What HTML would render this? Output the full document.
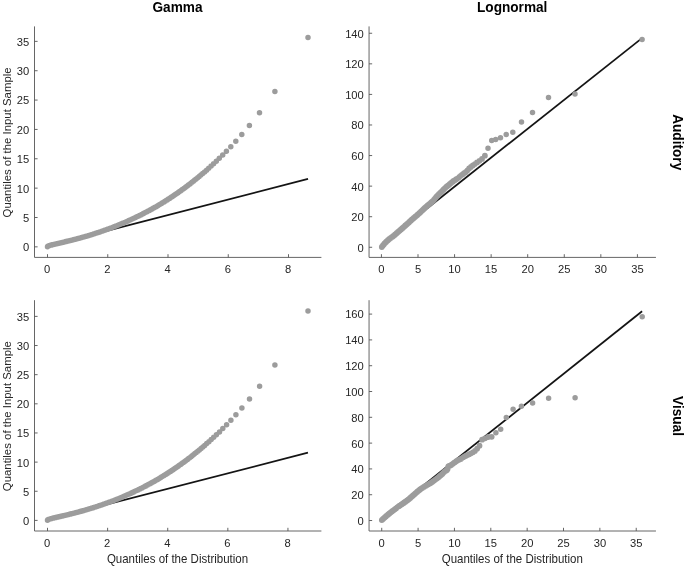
<!DOCTYPE html>
<html lang="en">
<head>
<meta charset="utf-8">
<title>QQ plots: Gamma and Lognormal, Auditory and Visual</title>
<style>
html,body{margin:0;padding:0;background:#fff;}
body{width:685px;height:566px;overflow:hidden;}
svg{display:block;font-family:"Liberation Sans",Arial,Helvetica,sans-serif;}
</style>
</head>
<body>
<svg width="685" height="566" viewBox="0 0 685 566">
<rect width="685" height="566" fill="#fff"/>
<!-- top-left: Gamma / Auditory -->
<line x1="47.51" y1="246.09" x2="308.03" y2="178.91" stroke="#141414" stroke-width="1.75"/>
<path d="M47.5 246.7h0M47.8 246.2h0M48.3 246.0h0M48.9 245.8h0M49.4 245.6h0M49.9 245.4h0M50.4 245.3h0M51.0 245.1h0M51.5 245.0h0M52.1 244.9h0M52.6 244.7h0M53.1 244.6h0M53.7 244.5h0M54.2 244.3h0M54.8 244.2h0M55.3 244.1h0M55.8 243.9h0M56.4 243.8h0M56.9 243.7h0M57.5 243.6h0M58.0 243.4h0M58.6 243.3h0M59.1 243.2h0M59.7 243.0h0M60.2 242.9h0M60.7 242.8h0M61.3 242.7h0M61.8 242.5h0M62.4 242.4h0M62.9 242.3h0M63.5 242.2h0M64.0 242.0h0M64.6 241.9h0M65.1 241.8h0M65.6 241.6h0M66.2 241.5h0M66.7 241.4h0M67.3 241.2h0M67.8 241.1h0M68.4 241.0h0M68.9 240.8h0M69.5 240.7h0M70.0 240.6h0M70.6 240.4h0M71.1 240.3h0M71.6 240.2h0M72.2 240.0h0M72.8 239.9h0M73.3 239.8h0M73.8 239.6h0M74.4 239.5h0M74.9 239.3h0M75.5 239.2h0M76.0 239.0h0M76.6 238.9h0M77.1 238.8h0M77.7 238.6h0M78.2 238.5h0M78.7 238.3h0M79.3 238.2h0M79.8 238.0h0M80.4 237.9h0M80.9 237.7h0M81.5 237.6h0M82.0 237.4h0M82.6 237.3h0M83.1 237.1h0M83.7 237.0h0M84.2 236.8h0M84.8 236.7h0M85.3 236.5h0M85.9 236.3h0M86.4 236.2h0M86.9 236.0h0M87.5 235.9h0M88.1 235.7h0M88.6 235.5h0M89.1 235.4h0M89.7 235.2h0M90.3 235.0h0M90.8 234.9h0M91.3 234.7h0M91.9 234.5h0M92.4 234.4h0M93.0 234.2h0M93.5 234.0h0M94.1 233.8h0M94.6 233.7h0M95.2 233.5h0M95.7 233.3h0M96.3 233.1h0M96.8 233.0h0M97.4 232.8h0M97.9 232.6h0M98.5 232.4h0M99.1 232.2h0M99.6 232.0h0M100.1 231.9h0M100.7 231.7h0M101.3 231.5h0M101.8 231.3h0M102.4 231.1h0M102.9 230.9h0M103.5 230.7h0M104.0 230.5h0M104.6 230.3h0M105.1 230.1h0M105.7 229.9h0M106.3 229.7h0M106.8 229.5h0M107.4 229.3h0M107.9 229.1h0M108.5 228.9h0M109.0 228.7h0M109.6 228.5h0M110.2 228.3h0M110.8 228.1h0M111.3 227.9h0M111.9 227.7h0M112.4 227.4h0M113.0 227.2h0M113.5 227.0h0M114.1 226.8h0M114.7 226.6h0M115.3 226.3h0M115.9 226.1h0M116.4 225.9h0M116.9 225.7h0M117.5 225.5h0M118.0 225.2h0M118.5 225.0h0M119.1 224.8h0M119.7 224.6h0M120.3 224.3h0M120.9 224.1h0M121.5 223.8h0M122.1 223.5h0M122.6 223.3h0M123.1 223.1h0M123.7 222.9h0M124.2 222.7h0M124.7 222.4h0M125.3 222.2h0M125.9 221.9h0M126.4 221.7h0M127.0 221.4h0M127.6 221.2h0M128.2 220.9h0M128.8 220.6h0M129.5 220.3h0M130.1 220.0h0M130.8 219.7h0M131.3 219.5h0M131.8 219.3h0M132.3 219.0h0M132.9 218.8h0M133.4 218.5h0M134.0 218.2h0M134.5 218.0h0M135.1 217.7h0M135.7 217.4h0M136.3 217.1h0M136.9 216.8h0M137.5 216.5h0M138.2 216.2h0M138.8 215.9h0M139.5 215.6h0M140.2 215.2h0M140.9 214.9h0M141.6 214.5h0M142.3 214.2h0M142.8 213.9h0M143.3 213.6h0M143.8 213.4h0M144.3 213.1h0M144.9 212.8h0M145.4 212.6h0M146.0 212.3h0M146.5 212.0h0M147.1 211.7h0M147.7 211.3h0M148.3 211.0h0M148.9 210.7h0M149.5 210.4h0M150.1 210.0h0M150.8 209.7h0M151.4 209.3h0M152.1 208.9h0M152.8 208.5h0M153.5 208.1h0M154.2 207.7h0M155.0 207.3h0M155.7 206.9h0M156.5 206.4h0M157.3 206.0h0M158.1 205.5h0M158.9 205.0h0M159.8 204.5h0M160.7 203.9h0M161.6 203.4h0M162.1 203.1h0M162.6 202.8h0M163.1 202.5h0M163.6 202.2h0M164.1 201.9h0M164.6 201.6h0M165.1 201.2h0M165.6 200.9h0M166.2 200.6h0M166.7 200.2h0M167.3 199.9h0M167.8 199.5h0M168.4 199.1h0M169.0 198.7h0M169.6 198.4h0M170.2 198.0h0M170.8 197.5h0M171.5 197.1h0M172.1 196.7h0M172.8 196.2h0M173.5 195.8h0M174.2 195.3h0M174.9 194.8h0M175.6 194.3h0M176.4 193.8h0M177.2 193.3h0M178.0 192.7h0M178.8 192.1h0M179.6 191.5h0M180.5 190.9h0M181.4 190.3h0M182.3 189.6h0M183.2 189.0h0M184.2 188.2h0M185.2 187.5h0M186.2 186.7h0M187.3 185.9h0M188.4 185.1h0M189.6 184.2h0M190.8 183.3h0M192.0 182.3h0M193.4 181.2h0M194.7 180.1h0M196.2 179.0h0M197.7 177.8h0M199.2 176.4h0M200.9 175.0h0M202.7 173.5h0M204.6 171.9h0M206.6 170.2h0M208.7 168.2h0M211.1 166.1h0M213.6 163.8h0M216.3 161.2h0M219.3 158.3h0M222.7 155.0h0M226.4 151.2h0M230.8 146.7h0M235.8 141.3h0M241.8 134.5h0M249.4 125.5h0M259.5 112.7h0M274.9 91.4h0M308.0 37.4h0" fill="none" stroke="#9c9c9c" stroke-width="5.50" stroke-linecap="round"/>
<path d="M34.50 26.40V257.40H321.40" fill="none" stroke="#666" stroke-width="1"/>
<path d="M47.50 257.40v-3.2M107.75 257.40v-3.2M168.00 257.40v-3.2M228.25 257.40v-3.2M288.50 257.40v-3.2M34.50 246.85h3.1M34.50 217.50h3.1M34.50 188.14h3.1M34.50 158.78h3.1M34.50 129.43h3.1M34.50 100.07h3.1M34.50 70.72h3.1M34.50 41.36h3.1" fill="none" stroke="#555" stroke-width="0.9"/>
<g font-size="11.2" fill="#262626">
<text x="47.1" y="273.2" text-anchor="middle">0</text>
<text x="107.3" y="273.2" text-anchor="middle">2</text>
<text x="167.6" y="273.2" text-anchor="middle">4</text>
<text x="227.8" y="273.2" text-anchor="middle">6</text>
<text x="288.1" y="273.2" text-anchor="middle">8</text>
<text x="29.2" y="251.2" text-anchor="end">0</text>
<text x="29.2" y="221.8" text-anchor="end">5</text>
<text x="29.2" y="192.5" text-anchor="end">10</text>
<text x="29.2" y="163.1" text-anchor="end">15</text>
<text x="29.2" y="133.8" text-anchor="end">20</text>
<text x="29.2" y="104.4" text-anchor="end">25</text>
<text x="29.2" y="75.1" text-anchor="end">30</text>
<text x="29.2" y="45.7" text-anchor="end">35</text>
</g>
<!-- top-right: Lognormal / Auditory -->
<line x1="381.63" y1="244.50" x2="642.36" y2="37.82" stroke="#141414" stroke-width="1.75"/>
<path d="M381.8 247.0h0M382.1 246.6h0M382.5 246.1h0M382.8 245.7h0M383.1 245.2h0M383.5 244.8h0M383.8 244.4h0M384.2 243.9h0M384.5 243.5h0M384.9 243.1h0M385.3 242.7h0M385.7 242.3h0M386.1 241.9h0M386.5 241.5h0M386.9 241.1h0M387.3 240.8h0M387.7 240.4h0M388.1 240.0h0M388.5 239.7h0M388.9 239.3h0M389.3 239.0h0M389.8 238.6h0M390.2 238.3h0M390.7 238.0h0M391.1 237.6h0M391.6 237.3h0M392.1 237.0h0M392.5 236.7h0M393.0 236.3h0M393.4 236.0h0M393.8 235.6h0M394.3 235.3h0M394.7 234.9h0M395.1 234.5h0M395.5 234.2h0M395.9 233.8h0M396.4 233.4h0M396.8 233.0h0M397.2 232.7h0M397.6 232.3h0M398.0 232.0h0M398.5 231.6h0M398.9 231.2h0M399.3 230.8h0M399.8 230.5h0M400.2 230.1h0M400.6 229.7h0M401.0 229.4h0M401.5 229.0h0M401.9 228.6h0M402.3 228.2h0M402.8 227.9h0M403.2 227.5h0M403.6 227.1h0M404.1 226.7h0M404.5 226.3h0M404.9 225.9h0M405.3 225.5h0M405.8 225.2h0M406.2 224.7h0M406.6 224.4h0M407.1 224.0h0M407.5 223.6h0M408.0 223.2h0M408.4 222.8h0M408.9 222.4h0M409.3 222.0h0M409.7 221.6h0M410.1 221.2h0M410.6 220.8h0M411.0 220.4h0M411.4 220.0h0M411.9 219.6h0M412.3 219.2h0M412.8 218.8h0M413.3 218.4h0M413.7 218.0h0M414.1 217.7h0M414.6 217.3h0M415.0 216.9h0M415.5 216.5h0M416.0 216.1h0M416.5 215.7h0M416.9 215.3h0M417.4 214.9h0M417.8 214.5h0M418.3 214.1h0M418.8 213.6h0M419.3 213.2h0M419.8 212.7h0M420.2 212.3h0M420.7 211.9h0M421.1 211.5h0M421.5 211.1h0M422.0 210.6h0M422.5 210.2h0M423.0 209.7h0M423.5 209.2h0M424.0 208.7h0M424.5 208.2h0M425.1 207.6h0M425.7 207.1h0M426.3 206.6h0M426.9 206.1h0M427.3 205.7h0M427.8 205.4h0M428.2 205.0h0M428.7 204.6h0M429.2 204.2h0M429.6 203.8h0M430.2 203.3h0M430.7 202.9h0M431.2 202.5h0M431.8 202.0h0M432.4 201.5h0M433.0 200.9h0M433.6 200.3h0M434.2 199.5h0M434.9 198.7h0M435.2 198.3h0M435.6 197.8h0M435.9 197.4h0M436.3 196.9h0M436.7 196.5h0M437.1 196.1h0M437.5 195.7h0M437.8 195.3h0M438.2 194.9h0M438.7 194.5h0M439.1 194.0h0M439.5 193.6h0M440.0 193.2h0M440.4 192.7h0M440.9 192.3h0M441.4 191.8h0M441.8 191.3h0M442.3 190.8h0M442.9 190.3h0M443.4 189.7h0M443.9 189.2h0M444.5 188.6h0M445.1 188.1h0M445.6 187.6h0M446.2 187.0h0M446.9 186.5h0M447.5 185.9h0M448.2 185.4h0M448.9 184.8h0M449.6 184.2h0M450.3 183.6h0M451.1 183.0h0M451.9 182.3h0M452.7 181.7h0M453.5 181.0h0M454.4 180.4h0M455.4 179.8h0M456.3 179.2h0M457.3 178.6h0M458.4 177.8h0M459.5 176.8h0M460.7 175.8h0M461.9 174.8h0M463.2 173.9h0M464.5 173.0h0M466.0 171.9h0M467.5 170.3h0M469.1 168.5h0M470.9 167.0h0M472.8 165.5h0M474.8 164.1h0M477.0 162.5h0M479.4 160.8h0M482.0 158.9h0M484.9 155.7h0" fill="none" stroke="#9c9c9c" stroke-width="5.80" stroke-linecap="round"/>
<path d="M488.0 148.3h0M491.7 140.4h0M495.7 139.4h0M500.5 137.7h0M506.2 134.6h0M512.8 132.3h0M521.5 122.0h0M532.5 112.5h0M548.5 97.6h0M575.0 94.1h0M642.1 39.5h0" fill="none" stroke="#9c9c9c" stroke-width="5.50" stroke-linecap="round"/>
<path d="M369.05 26.40V257.40H655.95" fill="none" stroke="#666" stroke-width="1"/>
<path d="M381.43 257.40v-3.2M418.00 257.40v-3.2M454.57 257.40v-3.2M491.14 257.40v-3.2M527.70 257.40v-3.2M564.27 257.40v-3.2M600.84 257.40v-3.2M637.41 257.40v-3.2M369.05 247.28h3.1M369.05 216.71h3.1M369.05 186.13h3.1M369.05 155.56h3.1M369.05 124.98h3.1M369.05 94.41h3.1M369.05 63.84h3.1M369.05 33.26h3.1" fill="none" stroke="#555" stroke-width="0.9"/>
<g font-size="11.2" fill="#262626">
<text x="381.4" y="273.2" text-anchor="middle">0</text>
<text x="418.0" y="273.2" text-anchor="middle">5</text>
<text x="454.6" y="273.2" text-anchor="middle">10</text>
<text x="491.1" y="273.2" text-anchor="middle">15</text>
<text x="527.7" y="273.2" text-anchor="middle">20</text>
<text x="564.3" y="273.2" text-anchor="middle">25</text>
<text x="600.8" y="273.2" text-anchor="middle">30</text>
<text x="637.4" y="273.2" text-anchor="middle">35</text>
<text x="363.8" y="251.6" text-anchor="end">0</text>
<text x="363.8" y="221.1" text-anchor="end">20</text>
<text x="363.8" y="190.5" text-anchor="end">40</text>
<text x="363.8" y="159.9" text-anchor="end">60</text>
<text x="363.8" y="129.3" text-anchor="end">80</text>
<text x="363.8" y="98.8" text-anchor="end">100</text>
<text x="363.8" y="68.2" text-anchor="end">120</text>
<text x="363.8" y="37.6" text-anchor="end">140</text>
</g>
<!-- bottom-left: Gamma / Visual -->
<line x1="47.51" y1="519.65" x2="307.95" y2="452.69" stroke="#141414" stroke-width="1.75"/>
<path d="M47.5 520.2h0M47.8 519.8h0M48.3 519.5h0M48.9 519.3h0M49.4 519.2h0M49.9 519.0h0M50.5 518.8h0M51.0 518.7h0M51.5 518.5h0M52.1 518.4h0M52.6 518.3h0M53.1 518.1h0M53.7 518.0h0M54.2 517.9h0M54.8 517.8h0M55.3 517.6h0M55.9 517.5h0M56.4 517.4h0M56.9 517.2h0M57.5 517.1h0M58.0 517.0h0M58.6 516.9h0M59.1 516.7h0M59.7 516.6h0M60.2 516.5h0M60.7 516.4h0M61.3 516.2h0M61.8 516.1h0M62.4 516.0h0M62.9 515.9h0M63.5 515.7h0M64.0 515.6h0M64.5 515.5h0M65.1 515.3h0M65.6 515.2h0M66.2 515.1h0M66.7 514.9h0M67.3 514.8h0M67.8 514.7h0M68.4 514.6h0M68.9 514.4h0M69.5 514.3h0M70.0 514.1h0M70.6 514.0h0M71.1 513.9h0M71.7 513.7h0M72.2 513.6h0M72.7 513.5h0M73.3 513.3h0M73.8 513.2h0M74.4 513.0h0M74.9 512.9h0M75.5 512.8h0M76.0 512.6h0M76.6 512.5h0M77.1 512.3h0M77.7 512.2h0M78.2 512.0h0M78.7 511.9h0M79.3 511.8h0M79.8 511.6h0M80.4 511.5h0M80.9 511.3h0M81.4 511.2h0M82.0 511.0h0M82.6 510.9h0M83.1 510.7h0M83.6 510.5h0M84.2 510.4h0M84.7 510.2h0M85.3 510.1h0M85.8 509.9h0M86.4 509.8h0M86.9 509.6h0M87.5 509.4h0M88.0 509.3h0M88.6 509.1h0M89.1 509.0h0M89.6 508.8h0M90.2 508.6h0M90.8 508.5h0M91.3 508.3h0M91.8 508.1h0M92.4 508.0h0M92.9 507.8h0M93.5 507.6h0M94.0 507.4h0M94.6 507.3h0M95.1 507.1h0M95.7 506.9h0M96.3 506.7h0M96.8 506.6h0M97.3 506.4h0M97.9 506.2h0M98.4 506.0h0M99.0 505.8h0M99.5 505.6h0M100.1 505.5h0M100.6 505.3h0M101.2 505.1h0M101.7 504.9h0M102.3 504.7h0M102.9 504.5h0M103.4 504.3h0M103.9 504.1h0M104.5 503.9h0M105.0 503.8h0M105.6 503.5h0M106.2 503.3h0M106.8 503.1h0M107.3 502.9h0M107.8 502.7h0M108.4 502.5h0M108.9 502.3h0M109.5 502.1h0M110.1 501.9h0M110.7 501.7h0M111.3 501.5h0M111.8 501.3h0M112.3 501.1h0M112.9 500.9h0M113.4 500.7h0M114.0 500.4h0M114.6 500.2h0M115.1 500.0h0M115.7 499.7h0M116.3 499.5h0M116.9 499.3h0M117.4 499.1h0M117.9 498.9h0M118.5 498.7h0M119.0 498.4h0M119.6 498.2h0M120.2 498.0h0M120.7 497.7h0M121.3 497.5h0M122.0 497.2h0M122.6 496.9h0M123.1 496.7h0M123.6 496.5h0M124.1 496.3h0M124.7 496.1h0M125.2 495.8h0M125.8 495.6h0M126.3 495.3h0M126.9 495.1h0M127.5 494.8h0M128.1 494.6h0M128.7 494.3h0M129.3 494.0h0M130.0 493.7h0M130.6 493.4h0M131.3 493.1h0M131.8 492.9h0M132.3 492.6h0M132.8 492.4h0M133.4 492.1h0M133.9 491.9h0M134.5 491.6h0M135.1 491.3h0M135.6 491.1h0M136.2 490.8h0M136.8 490.5h0M137.4 490.2h0M138.1 489.9h0M138.7 489.6h0M139.4 489.3h0M140.0 488.9h0M140.7 488.6h0M141.4 488.2h0M142.1 487.9h0M142.9 487.5h0M143.4 487.2h0M143.9 487.0h0M144.4 486.7h0M144.9 486.4h0M145.4 486.1h0M146.0 485.9h0M146.5 485.6h0M147.1 485.3h0M147.7 485.0h0M148.3 484.6h0M148.9 484.3h0M149.5 484.0h0M150.1 483.7h0M150.7 483.3h0M151.4 482.9h0M152.0 482.6h0M152.7 482.2h0M153.4 481.8h0M154.1 481.4h0M154.9 481.0h0M155.6 480.6h0M156.4 480.1h0M157.2 479.7h0M158.0 479.2h0M158.8 478.7h0M159.6 478.2h0M160.5 477.7h0M161.4 477.1h0M162.4 476.5h0M162.8 476.3h0M163.3 476.0h0M163.8 475.7h0M164.3 475.3h0M164.8 475.0h0M165.3 474.7h0M165.9 474.4h0M166.4 474.0h0M167.0 473.7h0M167.5 473.3h0M168.1 473.0h0M168.7 472.6h0M169.2 472.2h0M169.8 471.8h0M170.5 471.4h0M171.1 471.0h0M171.7 470.6h0M172.4 470.2h0M173.0 469.7h0M173.7 469.2h0M174.4 468.8h0M175.1 468.3h0M175.9 467.8h0M176.6 467.3h0M177.4 466.7h0M178.2 466.2h0M179.0 465.6h0M179.8 465.0h0M180.7 464.4h0M181.6 463.8h0M182.5 463.1h0M183.4 462.4h0M184.4 461.7h0M185.4 461.0h0M186.4 460.2h0M187.5 459.4h0M188.6 458.6h0M189.8 457.7h0M191.0 456.7h0M192.2 455.8h0M193.5 454.7h0M194.9 453.6h0M196.3 452.5h0M197.8 451.2h0M199.4 449.9h0M201.1 448.5h0M202.9 447.0h0M204.7 445.4h0M206.7 443.6h0M208.9 441.7h0M211.2 439.6h0M213.7 437.3h0M216.4 434.8h0M219.5 431.9h0M222.8 428.6h0M226.6 424.7h0M230.9 420.2h0M235.9 414.8h0M241.9 408.0h0M249.5 399.1h0M259.6 386.3h0M274.9 365.0h0M308.0 311.1h0" fill="none" stroke="#9c9c9c" stroke-width="5.50" stroke-linecap="round"/>
<path d="M34.50 300.20V531.00H321.40" fill="none" stroke="#666" stroke-width="1"/>
<path d="M47.50 531.00v-3.2M107.61 531.00v-3.2M167.72 531.00v-3.2M227.84 531.00v-3.2M287.95 531.00v-3.2M34.50 520.40h3.1M34.50 491.25h3.1M34.50 462.11h3.1M34.50 432.96h3.1M34.50 403.82h3.1M34.50 374.67h3.1M34.50 345.53h3.1M34.50 316.38h3.1" fill="none" stroke="#555" stroke-width="0.9"/>
<g font-size="11.2" fill="#262626">
<text x="47.1" y="546.8" text-anchor="middle">0</text>
<text x="107.2" y="546.8" text-anchor="middle">2</text>
<text x="167.3" y="546.8" text-anchor="middle">4</text>
<text x="227.4" y="546.8" text-anchor="middle">6</text>
<text x="287.5" y="546.8" text-anchor="middle">8</text>
<text x="29.2" y="524.8" text-anchor="end">0</text>
<text x="29.2" y="495.6" text-anchor="end">5</text>
<text x="29.2" y="466.5" text-anchor="end">10</text>
<text x="29.2" y="437.3" text-anchor="end">15</text>
<text x="29.2" y="408.2" text-anchor="end">20</text>
<text x="29.2" y="379.0" text-anchor="end">25</text>
<text x="29.2" y="349.9" text-anchor="end">30</text>
<text x="29.2" y="320.7" text-anchor="end">35</text>
</g>
<!-- bottom-right: Lognormal / Visual -->
<line x1="381.63" y1="518.79" x2="642.10" y2="311.20" stroke="#141414" stroke-width="1.75"/>
<path d="M381.8 520.1h0M382.2 519.7h0M382.6 519.3h0M383.0 519.0h0M383.4 518.6h0M383.8 518.2h0M384.2 517.8h0M384.7 517.5h0M385.1 517.1h0M385.5 516.7h0M385.9 516.4h0M386.3 516.0h0M386.7 515.6h0M387.1 515.3h0M387.6 514.9h0M388.0 514.6h0M388.4 514.2h0M388.8 513.9h0M389.3 513.5h0M389.7 513.2h0M390.1 512.8h0M390.6 512.5h0M391.0 512.1h0M391.4 511.8h0M391.9 511.5h0M392.3 511.1h0M392.8 510.8h0M393.2 510.4h0M393.7 510.1h0M394.1 509.8h0M394.6 509.4h0M395.0 509.1h0M395.4 508.8h0M395.9 508.4h0M396.4 508.1h0M396.8 507.8h0M397.2 507.4h0M397.7 507.1h0M398.2 506.7h0M398.6 506.4h0M399.1 506.1h0M399.5 505.7h0M400.0 505.4h0M400.5 505.1h0M400.9 504.8h0M401.4 504.5h0M401.9 504.2h0M402.3 503.8h0M402.8 503.5h0M403.3 503.2h0M403.8 502.9h0M404.2 502.5h0M404.7 502.2h0M405.2 501.9h0M405.6 501.5h0M406.1 501.2h0M406.6 500.8h0M407.1 500.5h0M407.5 500.2h0M408.0 499.8h0M408.5 499.4h0M408.9 499.1h0M409.4 498.7h0M409.8 498.3h0M410.3 497.9h0M410.7 497.5h0M411.2 497.1h0M411.6 496.7h0M412.1 496.3h0M412.5 495.9h0M413.0 495.5h0M413.5 495.1h0M413.9 494.7h0M414.3 494.3h0M414.8 493.9h0M415.3 493.5h0M415.7 493.1h0M416.2 492.6h0M416.7 492.3h0M417.1 491.9h0M417.5 491.5h0M418.0 491.1h0M418.5 490.7h0M418.9 490.3h0M419.5 489.9h0M420.0 489.5h0M420.5 489.1h0M421.1 488.7h0M421.7 488.3h0M422.3 487.9h0M422.8 487.6h0M423.3 487.3h0M423.8 487.0h0M424.3 486.7h0M424.8 486.3h0M425.4 486.0h0M426.0 485.7h0M426.6 485.3h0M427.2 485.0h0M427.9 484.6h0M428.6 484.2h0M429.3 483.8h0M429.8 483.5h0M430.3 483.2h0M430.8 482.8h0M431.4 482.4h0M431.9 482.1h0M432.5 481.7h0M433.1 481.2h0M433.7 480.8h0M434.4 480.3h0M435.0 479.8h0M435.7 479.3h0M436.4 478.8h0M437.2 478.2h0M438.0 477.6h0M438.8 476.9h0M439.6 476.2h0M440.1 475.8h0M440.5 475.5h0M441.0 475.1h0M441.5 474.6h0M442.0 474.2h0M442.5 473.7h0M443.0 473.1h0M443.5 472.6h0M444.1 472.1h0M444.6 471.5h0M445.2 471.1h0M445.8 470.7h0M446.4 470.4h0M447.0 470.1h0M447.6 468.9h0M448.3 466.3h0M449.0 465.9h0M449.7 465.7h0M450.4 465.4h0M451.2 464.9h0M452.0 464.3h0M452.8 463.8h0M453.7 463.1h0M454.6 462.5h0M455.5 461.8h0M456.4 461.2h0M457.5 460.6h0M458.5 460.0h0M459.6 459.5h0M460.8 458.9h0M462.0 458.1h0M463.3 457.3h0M464.6 456.5h0M466.1 455.7h0M467.6 455.0h0M469.3 454.2h0M471.0 453.3h0M472.9 452.3h0M474.9 450.9h0M477.1 448.7h0M479.5 445.7h0M482.1 439.7h0M485.0 438.3h0M488.2 437.0h0M491.7 436.8h0" fill="none" stroke="#9c9c9c" stroke-width="5.80" stroke-linecap="round"/>
<path d="M495.9 432.7h0M500.7 429.3h0M506.3 417.4h0M513.1 409.3h0M521.4 406.2h0M532.6 403.0h0M548.6 398.3h0M575.1 397.8h0M642.2 316.7h0" fill="none" stroke="#9c9c9c" stroke-width="5.50" stroke-linecap="round"/>
<path d="M369.05 300.20V531.00H655.95" fill="none" stroke="#666" stroke-width="1"/>
<path d="M381.73 531.00v-3.2M418.09 531.00v-3.2M454.44 531.00v-3.2M490.80 531.00v-3.2M527.16 531.00v-3.2M563.51 531.00v-3.2M599.87 531.00v-3.2M636.23 531.00v-3.2M369.05 520.53h3.1M369.05 494.73h3.1M369.05 468.92h3.1M369.05 443.12h3.1M369.05 417.31h3.1M369.05 391.51h3.1M369.05 365.71h3.1M369.05 339.90h3.1M369.05 314.10h3.1" fill="none" stroke="#555" stroke-width="0.9"/>
<g font-size="11.2" fill="#262626">
<text x="381.7" y="546.8" text-anchor="middle">0</text>
<text x="418.1" y="546.8" text-anchor="middle">5</text>
<text x="454.4" y="546.8" text-anchor="middle">10</text>
<text x="490.8" y="546.8" text-anchor="middle">15</text>
<text x="527.2" y="546.8" text-anchor="middle">20</text>
<text x="563.5" y="546.8" text-anchor="middle">25</text>
<text x="599.9" y="546.8" text-anchor="middle">30</text>
<text x="636.2" y="546.8" text-anchor="middle">35</text>
<text x="363.8" y="524.9" text-anchor="end">0</text>
<text x="363.8" y="499.1" text-anchor="end">20</text>
<text x="363.8" y="473.3" text-anchor="end">40</text>
<text x="363.8" y="447.5" text-anchor="end">60</text>
<text x="363.8" y="421.7" text-anchor="end">80</text>
<text x="363.8" y="395.9" text-anchor="end">100</text>
<text x="363.8" y="370.1" text-anchor="end">120</text>
<text x="363.8" y="344.3" text-anchor="end">140</text>
<text x="363.8" y="318.4" text-anchor="end">160</text>
</g>
<g fill="#000" font-weight="bold" font-size="13.65" text-anchor="middle">
<text transform="translate(177.5 12.2) scale(1 1.02)">Gamma</text>
<text transform="translate(512.2 12.2) scale(1 1.02)">Lognormal</text>
<text transform="translate(672.5 142.2) rotate(90) scale(1 1.04)">Auditory</text>
<text transform="translate(672.5 416) rotate(90) scale(1 1.04)">Visual</text>
</g>
<g fill="#262626" font-size="11.5" text-anchor="middle">
<text transform="translate(177.5 562.6) scale(1 1.06)">Quantiles of the Distribution</text>
<text transform="translate(512.3 562.6) scale(1 1.06)">Quantiles of the Distribution</text>
<text font-size="11.4" transform="translate(11.2 142.4) rotate(-90)">Quantiles of the Input Sample</text>
<text font-size="11.4" transform="translate(11.2 416.2) rotate(-90)">Quantiles of the Input Sample</text>
</g>
</svg>
</body>
</html>
